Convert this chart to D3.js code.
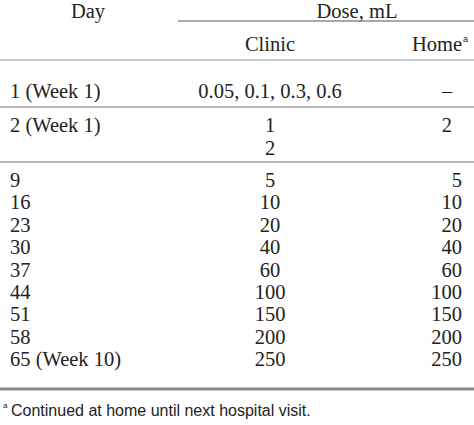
<!DOCTYPE html>
<html><head><meta charset="utf-8">
<script src="https://cdn.jsdelivr.net/npm/d3@7"></script>
<style>body{margin:0;background:#fff}</style>
</head><body>
<svg id="t" width="474" height="425"></svg>
<script>
var days = ["9", "16", "23", "30", "37", "44", "51", "58", "65 (Week 10)"];
var clinic = [5, 10, 20, 40, 60, 100, 150, 200, 250];
var home = [5, 10, 20, 40, 60, 100, 150, 200, 250];

var svg = d3.select("#t");
var serif = "Liberation Serif, Times New Roman, serif";
var fs = 20.5;
var xDay = 10, xClinic = 270, xHome = 462;

function txt(x, y, s, anchor) {
  return svg.append("text").attr("x", x).attr("y", y)
    .attr("text-anchor", anchor || "start")
    .style("font-family", serif).style("font-size", fs + "px")
    .style("fill", "#222").text(s);
}
function rule(x1, x2, y, w, c) {
  svg.append("line").attr("x1", x1).attr("x2", x2).attr("y1", y).attr("y2", y)
    .attr("stroke", c || "#777").attr("stroke-width", w);
}

// header
txt(88, 18, "Day", "middle");
txt(357, 18, "Dose, mL", "middle");
rule(178, 474, 21, 1.2, "#555");
txt(xClinic, 51, "Clinic", "middle");
txt(xHome, 51, "Home", "end");
svg.append("text").attr("x", xHome + 1).attr("y", 42)
  .style("font-family", "Liberation Sans, Arial, sans-serif").style("font-size", "9px")
  .style("fill", "#222").text("a");
rule(0, 474, 60, 1.2, "#999");

txt(xDay, 98, "1 (Week 1)");
txt(xClinic, 98, "0.05, 0.1, 0.3, 0.6", "middle");
txt(xHome - 15, 98, "–", "middle");
rule(0, 474, 107, 1.2, "#777");

txt(xDay, 132, "2 (Week 1)");
txt(xClinic, 132, "1", "middle");
txt(xClinic, 155, "2", "middle");
txt(xHome - 10, 132, "2", "end");
rule(0, 474, 162, 1.2, "#777");

var y = d3.scalePoint().domain(d3.range(days.length)).range([187, 366]);
days.forEach(function (d, i) {
  txt(xDay, y(i), d);
  txt(xClinic, y(i), clinic[i], "middle");
  txt(xHome, y(i), home[i], "end");
});
rule(0, 474, 389, 3, "#888");

svg.append("text").attr("x", 3).attr("y", 408)
  .style("font-family", "Liberation Sans, Arial, sans-serif").style("font-size", "8px")
  .style("fill", "#222").text("a");
svg.append("text").attr("x", 11).attr("y", 416)
  .style("font-family", "Liberation Sans, Arial, sans-serif").style("font-size", "16px")
  .style("fill", "#222").text("Continued at home until next hospital visit.");
</script>
</body></html>
